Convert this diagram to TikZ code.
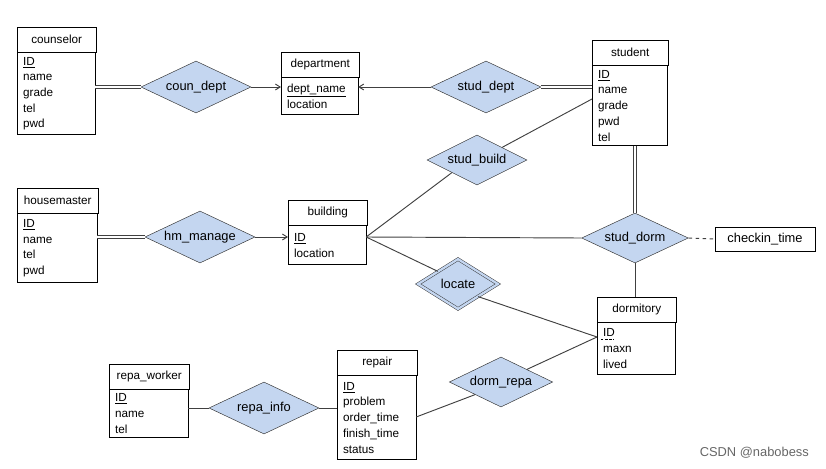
\documentclass[tikz,border=0pt]{standalone}
\usepackage{fontspec}
\setmainfont{Liberation Sans}
\usetikzlibrary{shapes.geometric,arrows.meta,positioning}
\definecolor{relblue}{RGB}{196,214,240}
\begin{document}
\begin{tikzpicture}[x=0.03cm,y=-0.03cm,
    head/.style={draw=black, anchor=north west, minimum height=0.75cm, inner sep=1pt, font=\fontsize{10}{11}\selectfont},
    body/.style={draw=black, anchor=north west, align=left, inner ysep=3pt, inner xsep=5pt, font=\fontsize{10}{13.4}\selectfont},
    rel/.style={draw=black!80, fill=relblue, diamond, aspect=2.1, inner sep=0pt, font=\fontsize{11}{12}\selectfont},
    line/.style={draw=black!75, thick},
    dbl/.style={draw=black!75, line width=0.5pt, double=white, double distance=1.6pt},
    arr/.style={line, -{Straight Barb[length=4pt,width=5pt]}}]
    \useasboundingbox (0,0) rectangle (826,468);
    % entities
    \node[head, minimum width=2.37cm] (counselor) at (17,27) {counselor};
    \node[body, text width=1.98cm, minimum height=2.46cm] (counselor-a) at (counselor.south west) {\underline{ID}\\name\\grade\\tel\\pwd};
    \node[head, minimum width=2.34cm] (department) at (281,52) {department};
    \node[body, text width=1.95cm, minimum height=1.11cm] (department-a) at (department.south west) {\underline{dept\_name}\\location};
    \node[head, minimum width=2.28cm] (student) at (592,40) {student};
    \node[body, text width=1.89cm, minimum height=2.4cm] (student-a) at (student.south west) {\underline{ID}\\name\\grade\\pwd\\tel};
    \node[head, minimum width=2.43cm] (housemaster) at (17,188) {housemaster};
    \node[body, text width=2.04cm, minimum height=2.07cm] (housemaster-a) at (housemaster.south west) {\underline{ID}\\name\\tel\\pwd};
    \node[head, minimum width=2.37cm] (building) at (288,200) {building};
    \node[body, text width=1.98cm, minimum height=1.17cm] (building-a) at (building.south west) {\underline{ID}\\location};
    \node[head, minimum width=2.37cm] (dormitory) at (597,297) {dormitory};
    \node[body, text width=1.98cm, minimum height=1.56cm] (dormitory-a) at (dormitory.south west) {ID\makebox[0pt][r]{\raisebox{-2pt}{\tikz[x=1cm,y=1cm]\draw[black, line width=0.6pt, dash pattern=on 2pt off 1.5pt] (0,0) -- (0.4,0);}}\\maxn\\lived};
    \node[head, minimum width=2.4cm] (repa_worker) at (109,364) {repa\_worker};
    \node[body, text width=2.01cm, minimum height=1.44cm] (repa_worker-a) at (repa_worker.south west) {\underline{ID}\\name\\tel};
    \node[head, minimum width=2.4cm] (repair) at (337,350) {repair};
    \node[body, text width=2.01cm, minimum height=2.52cm] (repair-a) at (repair.south west) {\underline{ID}\\problem\\order\_time\\finish\_time\\status};
    \node[draw=black, minimum width=3cm, minimum height=0.72cm, font=\fontsize{11}{12}\selectfont] (checkin) at (765,239) {checkin\_time};
    % relationships
    \node[rel, minimum width=3.3cm, minimum height=1.56cm] (coun_dept) at (196,87) {coun\_dept};
    \node[rel, minimum width=3.3cm, minimum height=1.56cm] (stud_dept) at (486,87) {stud\_dept};
    \node[rel, minimum width=3.0cm, minimum height=1.5cm] (stud_build) at (477,160) {stud\_build};
    \node[rel, minimum width=3.3cm, minimum height=1.56cm] (hm_manage) at (200,237) {hm\_manage};
    \node[rel, minimum width=3.2cm, minimum height=1.5cm] (stud_dorm) at (635,238) {stud\_dorm};
    \node[rel, minimum width=2.4cm, minimum height=1.5cm, double=relblue, double distance=2pt] (locate) at (458,284) {locate};
    \node[rel, minimum width=3.1cm, minimum height=1.5cm] (dorm_repa) at (501,382) {dorm\_repa};
    \node[rel, minimum width=3.3cm, minimum height=1.56cm] (repa_info) at (264,408) {repa\_info};
    % connectors
    \draw[dbl] (counselor-a.east |- coun_dept) -- (coun_dept.west);
    \draw[arr] (coun_dept.east) -- (department-a.west |- coun_dept);
    \draw[dbl] (stud_dept.east) -- (student-a.west |- stud_dept);
    \draw[arr] (stud_dept.west) -- (department-a.east |- stud_dept);
    \draw[dbl] (housemaster-a.east |- hm_manage) -- (hm_manage.west);
    \draw[arr] (hm_manage.east) -- (building-a.west |- hm_manage);
    \coordinate (b) at (building-a.east |- 0,237);
    \coordinate (s) at (student-a.west |- 0,99);
    \coordinate (d) at (dormitory-a.west |- 0,337);
    \draw[line] (b) -- (stud_build.south west);
    \draw[line] (stud_build.north east) -- (s);
    \draw[line] (b) -- (stud_dorm.west);
    \draw[line] (b) -- (locate.north west);
    \draw[line] (locate.south east) -- (d);
    \draw[line] (dorm_repa.north east) -- (d);
    \draw[line] (repair-a.east |- 0,417) -- (dorm_repa.south west);
    \draw[line] (repa_worker-a.east |- repa_info) -- (repa_info.west);
    \draw[line] (repa_info.east) -- (repair-a.west |- repa_info);
    \draw[dbl] (student-a.south -| stud_dorm) -- (stud_dorm.north);
    \draw[line] (stud_dorm.south) -- (dormitory.north -| stud_dorm);
    \draw[line, dashed] (stud_dorm.east) -- (checkin.west);
    \node[text=black!60, font=\fontsize{11}{12}\selectfont, anchor=south east] (mark) at (813,462) {CSDN @nabobess};
\end{tikzpicture}
\end{document}
